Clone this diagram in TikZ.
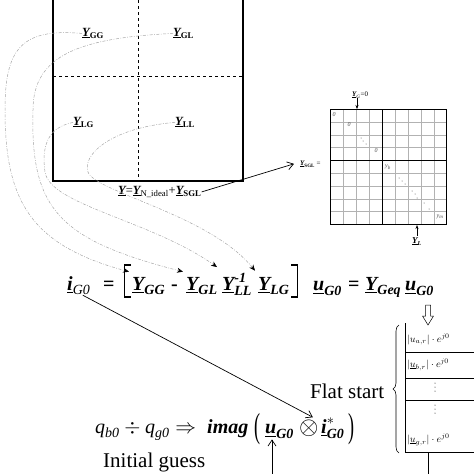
\documentclass[tikz,border=0pt]{standalone}
\usepackage{amsmath}
\usepackage{fontspec}
\setmainfont{Liberation Serif}
\usetikzlibrary{arrows.meta,decorations.pathreplacing}

\newcommand\bxY[1]{\(\underline{\text{\bfseries\itshape Y}}_{\text{\bfseries #1}}\)}
\newcommand\eqY[1]{\(\underline{\text{\bfseries\itshape Y}}_{\text{\bfseries\itshape #1}}\)}
\newcommand\eqU[1]{\(\underline{\text{\bfseries\itshape u}}_{\text{\bfseries\itshape #1}}\)}

\begin{document}
\begin{tikzpicture}[x=1pt, y=-1pt,
                   every node/.style = {inner sep = 0pt, anchor = base west},
                   boxlab/.style     = {font = \fontsize{12.5}{14}\selectfont},
                   tinylab/.style    = {font = \fontsize{7}{8}\selectfont},
                   cell/.style       = {anchor = center, text = black!70,
                                        font = \fontsize{6}{7}\selectfont\itshape},
                   eqtxt/.style      = {font = \fontsize{20}{24}\selectfont},
                   plain/.style      = {font = \fontsize{21}{24}\selectfont},
                   paren/.style      = {font = \fontsize{24}{24}\selectfont},
                   row/.style        = {font = \fontsize{10}{12}\selectfont},
                   gray curve/.style = {gray!70, line width = 0.5pt,
                                        dash pattern = on 3pt off 1.5pt on 0.8pt off 1.5pt,
                                        -{Stealth[black, length = 6pt, width = 5pt]}},
                   open arrow/.style = {-{Straight Barb[length = 6pt, width = 8pt]},
                                        line width = 0.7pt}]

\useasboundingbox (0,0) rectangle (474,474);

% the admittance matrix and its blocks
\draw[line width = 1.1pt] (53,-6) rectangle (243,181);
\draw[dashed, line width = 0.6pt] (138,-6) -- (138,181);
\draw[dashed, line width = 0.6pt] (53,76) -- (243,76);

\node[boxlab] (bGG) at (82,36)  {\bxY{GG}};
\node[boxlab] (bGL) at (173,36) {\bxY{GL}};
\node[boxlab] (bLG) at (73,125) {\bxY{LG}};
\node[boxlab] (bLL) at (175,125) {\bxY{LL}};
\node[boxlab] (yeq) at (118,194)
  {\(\underline{\text{\bfseries\itshape Y}}\)=\(\underline{\text{\bfseries\itshape Y}}_{\text{N\_ideal}}\)+\bxY{SGL}};

% the grid of Y_SGL
\foreach \k in {1,...,8}
  { \draw[gray!60, line width = 0.4pt] (330.7+12.9*\k,109.3) -- (330.7+12.9*\k,224.3);
    \draw[gray!60, line width = 0.4pt] (330.7,109.3+12.78*\k) -- (446.7,109.3+12.78*\k); }
\draw[line width = 0.8pt] (330.7,109.3) rectangle (446.7,224.3);
\draw[line width = 0.9pt] (382.3,109.3) -- (382.3,224.3);
\draw[line width = 0.9pt] (330.7,160.4) -- (446.7,160.4);

\node[cell] (c00) at (334,115) {0};
\node[cell] (c11) at (349,125) {0};
\node[cell] (c33) at (376,151) {0};
\node[cell] (c44) at (388,167) {y\textsubscript{b}};
\node[cell] (c88) at (440,217) {y\textsubscript{m}};
\foreach \px/\py in {361/138, 363/141, 366/144, 399/178, 402/181, 405/184,
                     412/191, 415/194, 417/198, 424/203, 429/209}
  { \fill[black!70] (\px,\py) circle (0.5pt); }

\node[tinylab] (ysgl) at (300,165) {\bxY{SGL} =};
\node[tinylab] (ygz)  at (352,96)  {\(\underline{\text{\bfseries\itshape Y}}_{\text{\itshape G}}\)=0};
\node[font = \fontsize{9}{10}\selectfont] (yl) at (412,243) {\eqY{L}};
\coordinate (gtop) at (357,109);
\coordinate (gbot) at (417,225);

% the equation
\node[eqtxt] (iG0) at (67,290)  {\(\underline{\text{\bfseries\itshape i}}_{\text{\itshape G0}}\)};
\node[eqtxt] (eq1) at (103,290) {\textbf{=}};
\draw[line width = 1.3pt] (131,265) -- (124.5,265) -- (124.5,297) -- (131,297);
\node[eqtxt] (tGG) at (132,290) {\eqY{GG}};
\node[eqtxt] (mn)  at (171,290) {\textbf{-}};
\node[eqtxt] (tGL) at (186,290) {\eqY{GL}};
\node[eqtxt] (tLL) at (222,290)
  {\(\underline{\text{\bfseries\itshape Y}}^{\text{\bfseries\itshape -1}}_{\text{\bfseries\itshape LL}}\)};
\node[eqtxt] (tLG) at (258,290) {\eqY{LG}};
\draw[line width = 1.3pt] (291,265) -- (297.5,265) -- (297.5,297) -- (291,297);
\node[eqtxt] (uG0a) at (313,290) {\eqU{G0}};
\node[eqtxt] (eq2)  at (348,290) {\textbf{=}};
\node[eqtxt] (tGeq) at (365,290) {\eqY{Geq}};
\node[eqtxt] (uG0b) at (405,290) {\eqU{G0}};

% blocks into the equation
\draw[gray curve] (bGG.west) .. controls (20,28) and (5,50) .. (5,110)
                  .. controls (5,200) and (30,245) .. ([xshift=-3pt, yshift=5pt]tGG.north west);
\draw[gray curve] (bGL.west) .. controls (80,38) and (33,55) .. (33,110)
                  .. controls (30,210) and (60,240) .. ([xshift=-3pt, yshift=5pt]tGL.north west);
\draw[gray curve] (bLG.west) .. controls (45,128) and (42,150) .. (45,172)
                  .. controls (50,205) and (150,220) .. ([xshift=-5pt, yshift=6pt]tLL.north west);
\draw[gray curve] (bLL.west) .. controls (110,128) and (82,155) .. (88,172)
                  .. controls (95,192) and (210,215) .. ([xshift=-3pt, yshift=6pt]tLG.north west);

\draw[open arrow] (yeq.east) -- ([xshift=-6pt]ysgl.west);
\draw[-{Stealth[length = 4pt, width = 3pt]}] (ygz.south -| gtop) -- (gtop);
\draw[-{Stealth[length = 4pt, width = 3pt]}, line width = 0.6pt] ([yshift=1pt]yl.north -| gbot) -- (gbot);

% flat start column
\draw[line width = 0.5pt] (425.5,305) -- (430.5,305) -- (430.5,316) -- (433.5,316)
                          -- (428,325) -- (422.5,316) -- (425.5,316) -- cycle;
\draw[line width = 0.6pt] (405,323) -- (405,452);
\foreach \ry in {352,378,400,452}
  { \draw[line width = 0.6pt] (405,\ry) -- (476,\ry); }
\node[row] (ra) at (407,342) {\(\lvert u_{a,r}\rvert\cdot e^{j0}\)};
\node[row] (rb) at (407,367) {\(\lvert \underline{u}_{b,r}\rvert\cdot e^{j0}\)};
\node[row] (rg) at (407,442) {\(\lvert \underline{u}_{g,r}\rvert\cdot e^{j0}\)};
\foreach \dy in {383,387,391,405,409,413}
  { \fill (435,\dy) circle (0.5pt); }
\coordinate (tbot) at (428,476);
\draw[line width = 0.6pt] (tbot) -- (428,452);
\draw[decorate, decoration = {brace, amplitude = 6pt}, line width = 0.6pt]
  (399,453) -- (399,325);
\node[plain] (flat) at (310,398) {Flat start};

% initial guess
\node[eqtxt] (qq)    at (95,433)  {\(\textit{q}_{\textit{b0}}\div \textit{q}_{\textit{g0}}\Rightarrow\)};
\node[eqtxt] (imag)  at (207,433) {\textbf{\textit{imag}}};
\node[paren] (lp) at (254,437) {\scalebox{0.75}[1.45]{(}};
\node[eqtxt] (uG0c)  at (265,433) {\eqU{G0}};
\node[font = \fontsize{25}{28}\selectfont] (otim) at (299,434) {\(\otimes\)};
\node[eqtxt] (iG0s)  at (321,433) {\(\underline{\text{\bfseries\itshape i}}^{*}_{\text{\bfseries\itshape G0}}\)};
\node[paren] (rp) at (348,437) {\scalebox{0.75}[1.45]{)}};
\node[plain] (init) at (103,467) {Initial guess};
\coordinate (ubot) at (272,476);

\draw[open arrow] ([xshift=4pt]iG0.south) -- ([xshift=4pt, yshift=2pt]otim.north);
\draw[open arrow] (ubot) -- ([yshift=-1pt]uG0c.south -| ubot);

\end{tikzpicture}
\end{document}
